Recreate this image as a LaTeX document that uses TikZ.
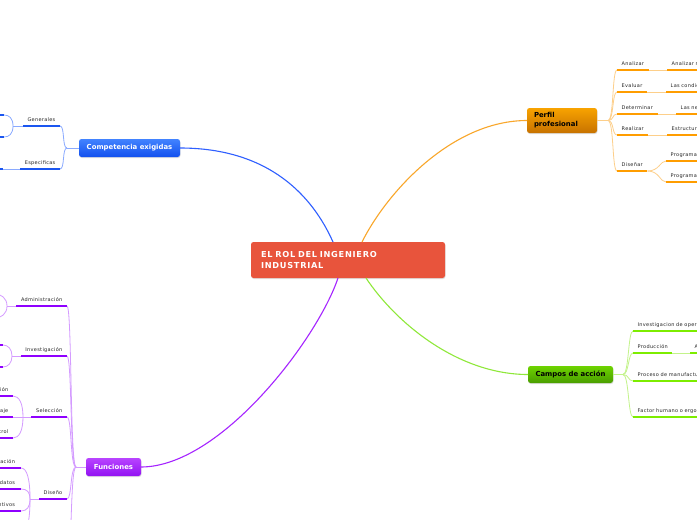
\documentclass[tikz,border=0pt]{standalone}
\usepackage{fontspec}
\setmainfont{DejaVu Sans}
\newfontfamily\labfont[LetterSpace=6]{DejaVu Sans}
\newfontfamily\rootfont[LetterSpace=9]{DejaVu Sans}
\usetikzlibrary{shadows}
\definecolor{bMain}{HTML}{2F5FFF}
\definecolor{bTop}{HTML}{4283FF}
\definecolor{bBot}{HTML}{1250EE}
\definecolor{bUl}{HTML}{1B56F0}
\definecolor{bThin}{HTML}{8AAAFF}
\definecolor{oMain}{HTML}{F9A72B}
\definecolor{oTop}{HTML}{F8A300}
\definecolor{oBot}{HTML}{C77200}
\definecolor{oUl}{HTML}{FF9D00}
\definecolor{oThin}{HTML}{FDCF8A}
\definecolor{pMain}{HTML}{A524FF}
\definecolor{pTop}{HTML}{B844FF}
\definecolor{pBot}{HTML}{9212F2}
\definecolor{pUl}{HTML}{8F00FF}
\definecolor{pThin}{HTML}{D49BFF}
\definecolor{gMain}{HTML}{8FE83A}
\definecolor{gTop}{HTML}{6DD300}
\definecolor{gBot}{HTML}{4A9E00}
\definecolor{gUl}{HTML}{7DED00}
\definecolor{gThin}{HTML}{C3F38A}
\definecolor{rootRed}{HTML}{E8543C}
\newcommand\uline[2]{\draw[line width=2pt,draw=#1] (#2.south west) -- (#2.south east);}
\begin{document}
\begin{tikzpicture}[x=1pt,y=-1pt,
  lbl/.style={font=\labfont\fontsize{5}{6}\selectfont, text=black!85, inner xsep=4.7pt, inner ysep=3.5pt, text height=3.7pt, text depth=1pt, outer sep=0pt},
  widelbl/.style={text width=#1, align=left},
  mainbox/.style={rounded corners=2.5pt, font=\bfseries\fontsize{6.9}{9}\selectfont, drop shadow={opacity=0.25,shadow xshift=0.5pt,shadow yshift=-1pt}, inner sep=0pt, outer sep=0pt},
  mainline/.style={line width=1.1pt},
  thin/.style={line width=0.8pt},
  ]
\useasboundingbox (0,0) rectangle (697,520);
\fill[white] (0,0) rectangle (697,520);

% ---------- main boxes ----------
\node[mainbox, fill=rootRed, text=white, minimum width=194pt, minimum height=36pt, text width=174pt, inner xsep=10pt, align=left, font=\rootfont\bfseries\fontsize{8.2}{10.3}\selectfont] (root) at (348,260) {EL ROL DEL INGENIERO\\INDUSTRIAL};
\node[mainbox, top color=bTop, bottom color=bBot, text=white, minimum width=101pt, minimum height=18pt] (comp) at (129.5,148) {Competencia exigidas};
\node[mainbox, top color=oTop, bottom color=oBot, text=black, minimum width=70pt, minimum height=25pt, text width=56pt, inner xsep=7pt, align=left] (perfil) at (562,120.5) {Perfil\\profesional};
\node[mainbox, top color=gTop, bottom color=gBot, text=black, minimum width=85pt, minimum height=17pt] (camp) at (570.5,374.5) {Campos de acción};
\node[mainbox, top color=pTop, bottom color=pBot, text=white, minimum width=55pt, minimum height=18pt] (fun) at (113.5,467) {Funciones};

% ---------- main connectors ----------
\draw[mainline, bMain] ([xshift=-15pt]root.north) .. controls +(-20,-45) and +(90,0) .. (comp.east);
\draw[mainline, oMain] ([xshift=14pt]root.north) .. controls +(25,-50) and +(-75,0) .. (perfil.west);
\draw[mainline, pMain] ([xshift=-10pt]root.south) .. controls +(-20,60) and +(80,0) .. (fun.east);
\draw[mainline, gMain] ([xshift=18pt]root.south) .. controls +(30,45) and +(-70,0) .. (camp.west);

% ---------- Perfil profesional ----------
\node[lbl, anchor=south west] (ana) at (617,70) {Analizar};
\node[lbl, anchor=south west] (eva) at (617,92) {Evaluar};
\node[lbl, anchor=south west] (det) at (617,114) {Determinar};
\node[lbl, anchor=south west] (rea) at (617,135) {Realizar};
\node[lbl, anchor=south west] (dsr) at (617,171) {Diseñar};
\node[lbl, widelbl=40pt, anchor=south west] (ana1) at (667,70) {Analizar r};
\node[lbl, widelbl=40pt, anchor=south west] (eva1) at (666,92) {Las condic};
\node[lbl, widelbl=40pt, anchor=south west] (det1) at (676,114) {Las ne};
\node[lbl, widelbl=40pt, anchor=south west] (rea1) at (667,135) {Estructur};
\node[lbl, widelbl=40pt, anchor=south west] (dsr1) at (666,161) {Programa};
\node[lbl, widelbl=40pt, anchor=south west] (dsr2) at (666,182) {Programa};
\coordinate (pf) at (608,120.5);
\draw[thin, oThin] (perfil.east) -- (pf);
\foreach \n in {ana,eva,det,rea,dsr}{
  \draw[thin, oThin] (pf) .. controls +(6,0) and +(-5,0) .. (\n.south west);
}
\draw[thin, oThin] (ana.south east) -- (ana1.south west);
\draw[thin, oThin] (eva.south east) -- (eva1.south west);
\draw[thin, oThin] (det.south east) -- (det1.south west);
\draw[thin, oThin] (rea.south east) -- (rea1.south west);
\draw[thin, oThin] (dsr.south east) .. controls +(12,0) and +(-6,0) .. (dsr1.south west);
\draw[thin, oThin] (dsr.south east) .. controls +(12,0) and +(-6,0) .. (dsr2.south west);
\foreach \n in {ana,eva,det,rea,dsr,ana1,eva1,det1,rea1,dsr1,dsr2}{\uline{oUl}{\n}}

% ---------- Campos de accion ----------
\node[lbl, widelbl=70pt, anchor=south west] (inv2) at (633,331) {Investigacion de oper};
\node[lbl, anchor=south west] (pro) at (633,353) {Producción};
\node[lbl, widelbl=20pt, anchor=south west] (pro1) at (690,353) {A};
\node[lbl, widelbl=70pt, anchor=south west] (man) at (633,381) {Proceso de manufactu};
\node[lbl, widelbl=70pt, anchor=south west] (fac) at (633,417) {Factor humano o ergo};
\coordinate (cf) at (623,374.5);
\draw[thin, gThin] (camp.east) -- (cf);
\foreach \n in {inv2,pro,man,fac}{
  \draw[thin, gThin] (cf) .. controls +(6,0) and +(-5,0) .. (\n.south west);
}
\draw[thin, gThin] (pro.south east) -- (pro1.south west);
\foreach \n in {inv2,pro,pro1,man,fac}{\uline{gUl}{\n}}

% ---------- Competencia exigidas ----------
\node[lbl, anchor=south east] (gen) at (60,126) {Generales};
\node[lbl, anchor=south east] (esp) at (60,169) {Especificas};
\coordinate (kf) at (67,148);
\draw[thin, bThin] (comp.west) -- (kf);
\foreach \n in {gen,esp}{
  \draw[thin, bThin] (kf) .. controls +(-5,0) and +(5,0) .. (\n.south east);
}
\coordinate (gk) at (13,126);
\coordinate (g1) at (4,115);
\coordinate (g2) at (4,137);
\coordinate (g1a) at (-10,115);
\coordinate (g2a) at (-10,137);
\draw[thin, bThin] (gen.south west) -- (gk);
\draw[thin, bThin] (gk) .. controls +(0,-8) and +(5,0) .. (g1);
\draw[thin, bThin] (gk) .. controls +(0,8) and +(5,0) .. (g2);
\coordinate (e1) at (3,169);
\coordinate (e1a) at (-10,169);
\draw[thin, bThin] (esp.south west) -- (e1);
\draw[line width=2pt, bUl] (g1a) -- (g1);
\draw[line width=2pt, bUl] (g2a) -- (g2);
\draw[line width=2pt, bUl] (e1a) -- (e1);
\foreach \n in {gen,esp}{\uline{bUl}{\n}}

% ---------- Funciones ----------
\node[lbl, anchor=south east] (adm) at (67,306) {Administración};
\node[lbl, anchor=south east] (inv) at (67,356) {Investigación};
\node[lbl, anchor=south east] (sel) at (67,417) {Selección};
\node[lbl, anchor=south east] (dis) at (67,499) {Diseño};
\coordinate (fmore) at (67,570);
\coordinate (ff) at (76,467);
\draw[thin, pThin] (fun.west) -- (ff);
\foreach \n in {adm,inv,sel,dis}{
  \draw[thin, pThin] (ff) .. controls +(-6,0) and +(5,0) .. (\n.south east);
}
\draw[thin, pThin] (ff) .. controls +(-6,0) and +(5,0) .. (fmore);
% Administracion children
\coordinate (ak) at (7,306);
\coordinate (a1) at (-5,294);
\coordinate (a2) at (-5,318);
\draw[thin, pThin] (adm.south west) -- (ak);
\draw[thin, pThin] (ak) .. controls +(0,-8) and +(6,0) .. (a1);
\draw[thin, pThin] (ak) .. controls +(0,8) and +(6,0) .. (a2);
% Investigacion children
\coordinate (ik) at (12,356);
\coordinate (i1) at (3,345);
\coordinate (i2) at (3,367);
\coordinate (i1a) at (-10,345);
\coordinate (i2a) at (-10,367);
\draw[thin, pThin] (inv.south west) -- (ik);
\draw[thin, pThin] (ik) .. controls +(0,-7) and +(5,0) .. (i1);
\draw[thin, pThin] (ik) .. controls +(0,7) and +(5,0) .. (i2);
\draw[line width=2pt, pUl] (i1a) -- (i1);
\draw[line width=2pt, pUl] (i2a) -- (i2);
% Seleccion children
\node[lbl, anchor=south east] (s1) at (13,396) {ión};
\node[lbl, anchor=south east] (s2) at (13,417) {aje};
\node[lbl, anchor=south east] (s3) at (13,438) {trol};
\coordinate (sk) at (23,417);
\draw[thin, pThin] (sel.south west) -- (sk);
\draw[thin, pThin] (sk) .. controls +(0,-14) and +(6,0) .. (s1.south east);
\draw[thin, pThin] (sk) -- (s2.south east);
\draw[thin, pThin] (sk) .. controls +(0,14) and +(6,0) .. (s3.south east);
% Diseno children
\node[lbl, anchor=south east, inner xsep=6pt] (d1) at (21,468) {ación};
\node[lbl, anchor=south east, inner xsep=6pt] (d2) at (21,489) {datos};
\node[lbl, anchor=south east, inner xsep=6pt] (d3) at (21,511) {ntivos};
\coordinate (d4) at (21,534);
\coordinate (dk) at (30,499);
\draw[thin, pThin] (dis.south west) -- (dk);
\draw[thin, pThin] (dk) .. controls +(0,-20) and +(6,0) .. (d1.south east);
\draw[thin, pThin] (dk) .. controls +(0,-7) and +(6,0) .. (d2.south east);
\draw[thin, pThin] (dk) .. controls +(0,8) and +(6,0) .. (d3.south east);
\draw[thin, pThin] (dk) .. controls +(0,22) and +(6,0) .. (d4);
\foreach \n in {adm,inv,sel,dis,s1,s2,s3,d1,d2,d3}{\uline{pUl}{\n}}
\end{tikzpicture}
\end{document}
